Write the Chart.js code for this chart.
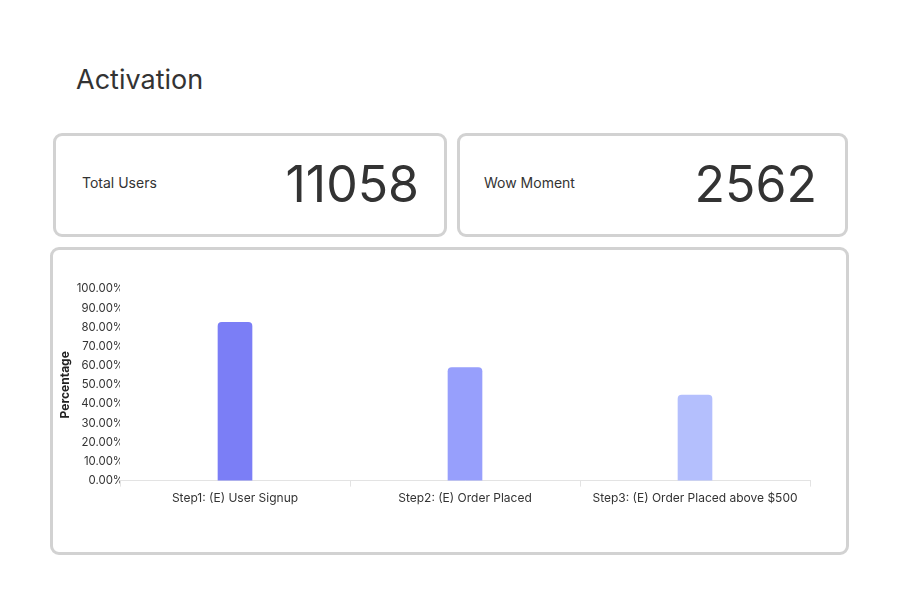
<!DOCTYPE html>
<html>
<head>
<meta charset="utf-8">
<script src="https://cdn.jsdelivr.net/npm/chart.js@4"></script>
<style>
  body { margin: 0; background: #fff; font-family: Inter, "Noto Sans", sans-serif; color: #333; }
  .page { position: relative; width: 900px; height: 600px; }
  h1 { position: absolute; left: 76px; top: 62px; margin: 0; font-size: 27px; font-weight: 400; color: #333; line-height: 36px; }
  .card { position: absolute; box-sizing: border-box; border: 3px solid #d2d2d2; border-radius: 9px; background: #fff; }
  .card .label { position: absolute; top: 50%; transform: translateY(-64%); font-size: 14px; color: #333; }
  .card .value { position: absolute; top: 50%; transform: translateY(-52%); font-size: 50px; color: #333; }
  #chartWrap { position: absolute; left: 52px; top: 268px; width: 780px; height: 250px; }
</style>
</head>
<body>
<div class="page">
  <h1>Activation</h1>
  <div class="card" style="left:53px;top:133px;width:394px;height:104px;">
    <span class="label" style="left:26px;">Total Users</span>
    <span class="value" id="totalUsers" style="right:25px;"></span>
  </div>
  <div class="card" style="left:457px;top:133px;width:391px;height:104px;">
    <span class="label" style="left:24px;">Wow Moment</span>
    <span class="value" id="wowMoment" style="right:28px;"></span>
  </div>
  <div class="card" style="left:50px;top:247px;width:799px;height:308px;"></div>
  <div id="chartWrap"><canvas id="grafico"></canvas></div>
</div>
<script>
// Dados
const totalUsers = 11058;
const wowMoment = 2562;
const steps = ['Step1: (E) User Signup', 'Step2: (E) Order Placed', 'Step3: (E) Order Placed above $500'];
const percentages = [82.6, 59.0, 44.6];
const barColors = ['#7b7ef6', '#979ffc', '#b4bffd'];

document.getElementById('totalUsers').textContent = totalUsers;
document.getElementById('wowMoment').textContent = wowMoment;

Chart.defaults.font.family = 'Inter, "Noto Sans", sans-serif';
Chart.defaults.color = '#333';

const ctx = document.getElementById('grafico').getContext('2d');
new Chart(ctx, {
  type: 'bar',
  data: {
    labels: steps,
    datasets: [{
      label: 'Percentage',
      data: percentages,
      backgroundColor: barColors,
      barThickness: 34,
      borderRadius: { topLeft: 4, topRight: 4 },
      borderSkipped: 'bottom'
    }]
  },
  options: {
    responsive: true,
    maintainAspectRatio: false,
    animation: false,
    layout: { padding: { top: 21, right: 22, left: 6, bottom: 7 } },
    plugins: { legend: { display: false }, tooltip: { enabled: false } },
    scales: {
      x: {
        grid: { display: true, drawOnChartArea: false, offset: true, tickLength: 6, color: '#e3e3e3' },
        border: { color: '#e3e3e3' },
        ticks: { font: { size: 12 }, color: '#333', padding: 5 }
      },
      y: {
        min: 0,
        max: 100,
        grid: { display: false, drawTicks: false },
        border: { display: false },
        ticks: {
          stepSize: 10,
          font: { size: 11.4 },
          color: '#333',
          padding: -4,
          callback: v => v.toFixed(2) + '%'
        },
        title: { display: true, text: 'Percentage', font: { size: 12, weight: 'bold' }, color: '#222', padding: { top: 0, bottom: 5 } },
        afterFit: s => { s.width = 62; }
      }
    }
  }
});
</script>
</body>
</html>
